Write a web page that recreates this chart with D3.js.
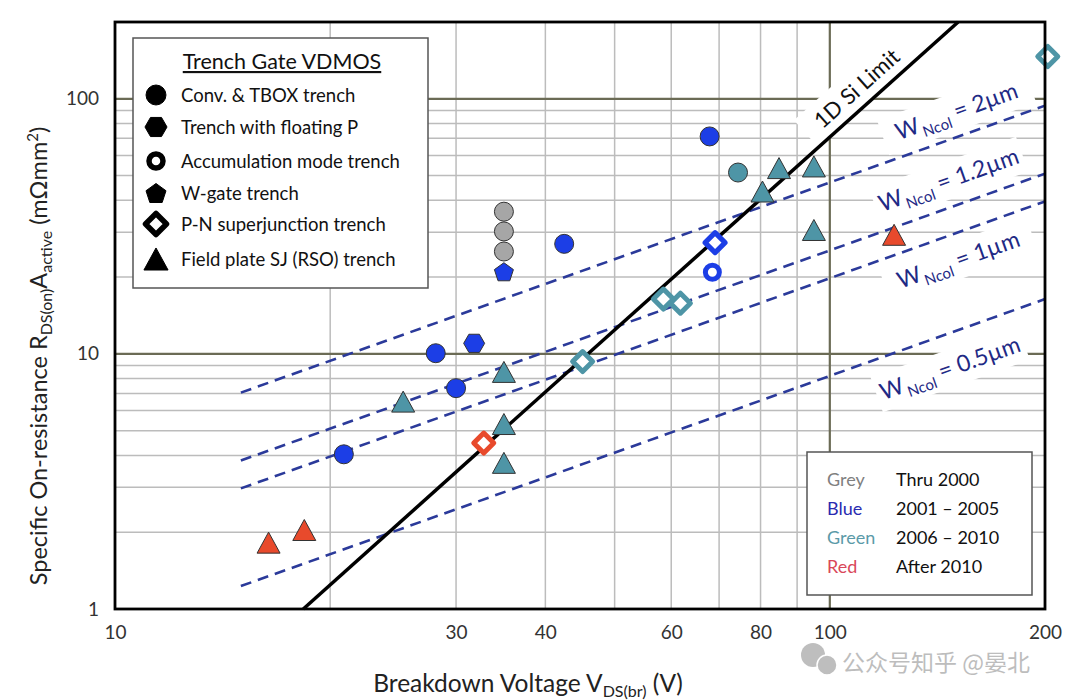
<!DOCTYPE html>
<html>
<head>
<meta charset="utf-8">
<script src="https://cdn.jsdelivr.net/npm/d3@7"></script>
<style>
body { margin: 0; background: #fff; }
svg { font-family: Lato, "Open Sans", sans-serif; }
</style>
</head>
<body>
<svg id="chart" width="1080" height="700"></svg>
<script>
// axes: breakdown voltage (V) vs specific on-resistance (mOhm mm2), log-log
const xTickLabels = [10, 30, 40, 60, 80, 100, 200];
const yTickLabels = [1, 10, 100];
const xMinorGrid = [20, 30, 40, 50, 60, 70, 80, 90];
const yMinorGrid = [2, 3, 4, 5, 6, 7, 8, 9, 20, 30, 40, 50, 60, 70, 80, 90];
const xMajorGrid = [100];
const yMajorGrid = [10, 100];

// points: [V, Ron, era]
const convTrench = [[35, 36.1, "grey"], [35, 30.2, "grey"], [35, 25.2, "grey"], [20.9, 4.04, "blue"],
  [28.1, 10.06, "blue"], [30, 7.34, "blue"], [42.5, 27.0, "blue"], [67.9, 71.2, "blue"], [74.4, 51.4, "green"]];
const floatingP = [[31.8, 11.0, "blue"]];
const accumulation = [[68.5, 20.9, "blue"]];
const wGate = [[35, 21.0, "blue"]];
const superjunction = [[32.8, 4.47, "red"], [45.1, 9.33, "green"], [58.5, 16.4, "green"], [61.8, 15.8, "green"],
  [69.1, 27.3, "blue"], [201.8, 146.5, "green"]];
const fieldPlate = [[16.4, 1.82, "red"], [18.4, 2.04, "red"], [25.3, 6.5, "green"], [35, 8.5, "green"],
  [35, 5.31, "green"], [35, 3.74, "green"], [80.5, 43.3, "green"], [84.9, 53.5, "green"], [95, 54.3, "green"],
  [95, 30.6, "green"], [123, 29.3, "red"]];

const siLimit = [[18.34, 1], [151.2, 200]];
const siLabelAt = [109, 110];
const wNcolNames = ["2µm", "1.2µm", "1µm", "0.5µm"];
const wNcolLines = [
  [[15, 7.05], [200, 94]],
  [[15, 3.82], [200, 50.9]],
  [[15, 2.97], [200, 39.6]],
  [[15, 1.23], [200, 16.4]]
];
const wNcolLabelAt = [[150.7, 88], [146.9, 47.3], [151.6, 23.0], [147.6, 8.65]];

const shapeNames = ["Conv. & TBOX trench", "Trench with floating P", "Accumulation mode trench",
  "W-gate trench", "P-N superjunction trench", "Field plate SJ (RSO) trench"];
const eraNames = ["Grey", "Blue", "Green", "Red"];
const eraYears = ["Thru 2000", "2001 – 2005", "2006 – 2010", "After 2010"];

const eraFill = { grey: "#a6a6a6", blue: "#1c3ee6", green: "#4e95a6", red: "#e84a2c" };
const eraText = ["#808080", "#2a2ab0", "#5b9aa8", "#d9475a"];
const navy = "#2b3a9a";

const svg = d3.select("#chart");

const x = d3.scaleLog().domain([10, 200]).range([115, 1045]);
const y = d3.scaleLog().domain([1, 200]).range([609, 22]);

const gridLayer = svg.append("g");
const boxLayer = svg.append("g");
const lineLayer = svg.append("g");
const pointLayer = svg.append("g");
const frameLayer = svg.append("g");

// grid
gridLayer.selectAll(".vminor").data(xMinorGrid).enter().append("line")
  .attr("x1", d => x(d)).attr("x2", d => x(d))
  .attr("y1", y(200)).attr("y2", y(1))
  .attr("stroke", "#bcbcbc").attr("stroke-width", 1.5);
gridLayer.selectAll(".hminor").data(yMinorGrid).enter().append("line")
  .attr("x1", x(10)).attr("x2", x(200))
  .attr("y1", d => y(d)).attr("y2", d => y(d))
  .attr("stroke", "#bcbcbc").attr("stroke-width", 1.5);
gridLayer.selectAll(".vmajor").data(xMajorGrid).enter().append("line")
  .attr("x1", d => x(d)).attr("x2", d => x(d))
  .attr("y1", y(200)).attr("y2", y(1))
  .attr("stroke", "#6b6b55").attr("stroke-width", 2.2);
gridLayer.selectAll(".hmajor").data(yMajorGrid).enter().append("line")
  .attr("x1", x(10)).attr("x2", x(200))
  .attr("y1", d => y(d)).attr("y2", d => y(d))
  .attr("stroke", "#6b6b55").attr("stroke-width", 2.2);

function angleOf(seg) {
  return Math.atan2(y(seg[1][1]) - y(seg[0][1]), x(seg[1][0]) - x(seg[0][0])) * 180 / Math.PI;
}

// 1D Si limit label
const siAngle = angleOf(siLimit);
const siLabel = boxLayer.append("g")
  .attr("transform", `translate(${x(siLabelAt[0])},${y(siLabelAt[1])}) rotate(${siAngle})`);
siLabel.append("rect").attr("x", -68).attr("y", -18).attr("width", 136).attr("height", 38).attr("fill", "#fff");
siLabel.append("text").attr("text-anchor", "middle").attr("y", 8)
  .style("font-size", "22px").attr("fill", "#111").text("1D Si Limit");

// W_Ncol labels
wNcolLabelAt.forEach((p, i) => {
  const g = boxLayer.append("g")
    .attr("transform", `translate(${x(p[0])},${y(p[1])}) rotate(${angleOf(wNcolLines[i])})`);
  g.append("rect").attr("x", -78).attr("y", -20).attr("width", 156).attr("height", 37).attr("fill", "#fff");
  const t = g.append("text").attr("text-anchor", "middle").attr("y", 6)
    .attr("fill", "#1f2a85").style("font-size", "23px");
  t.append("tspan").text("W");
  t.append("tspan").attr("dx", 2).attr("dy", 6).style("font-size", "15px").text("Ncol");
  t.append("tspan").attr("dy", -6).text(" = " + wNcolNames[i]);
});

// lines
const line = d3.line().x(d => x(d[0])).y(d => y(d[1]));
lineLayer.selectAll(".wline").data(wNcolLines).enter().append("path")
  .attr("d", line).attr("fill", "none")
  .attr("stroke", navy).attr("stroke-width", 2.6).attr("stroke-dasharray", "11,7");
lineLayer.append("path").datum(siLimit)
  .attr("d", line).attr("fill", "none")
  .attr("stroke", "#000").attr("stroke-width", 3.5);

// marker shapes
function shapePath(kind, k) {
  k = k || 1;
  const p = d3.path();
  if (kind === "circle") {
    p.arc(0, 0, 9.5 * k, 0, 2 * Math.PI);
  } else if (kind === "hexagon") {
    const r = 10.5 * k;
    for (let i = 0; i < 6; i++) {
      const a = i * Math.PI / 3;
      i ? p.lineTo(r * Math.cos(a), r * Math.sin(a)) : p.moveTo(r * Math.cos(a), r * Math.sin(a));
    }
    p.closePath();
  } else if (kind === "pentagon") {
    const r = 10 * k;
    for (let i = 0; i < 5; i++) {
      const a = -Math.PI / 2 + i * 2 * Math.PI / 5;
      i ? p.lineTo(r * Math.cos(a), r * Math.sin(a) + 1) : p.moveTo(r * Math.cos(a), r * Math.sin(a) + 1);
    }
    p.closePath();
  } else if (kind === "ring") {
    p.arc(0, 0, 7 * k, 0, 2 * Math.PI);
  } else if (kind === "diamond") {
    const r = 10 * k;
    p.moveTo(0, -r); p.lineTo(r, 0); p.lineTo(0, r); p.lineTo(-r, 0); p.closePath();
  } else if (kind === "triangle") {
    const w = 11.5 * k, h = 10.5 * k;
    p.moveTo(0, -h); p.lineTo(w, h); p.lineTo(-w, h); p.closePath();
  }
  return p.toString();
}
const openShapes = ["ring", "diamond"];

const series = [
  { kind: "circle", data: convTrench },
  { kind: "hexagon", data: floatingP },
  { kind: "ring", data: accumulation },
  { kind: "pentagon", data: wGate },
  { kind: "diamond", data: superjunction },
  { kind: "triangle", data: fieldPlate }
];

series.forEach(s => {
  const open = openShapes.includes(s.kind);
  pointLayer.selectAll(null).data(s.data).enter().append("path")
    .attr("transform", d => `translate(${x(d[0])},${y(d[1])})`)
    .attr("d", shapePath(s.kind))
    .attr("fill", d => open ? "#fff" : eraFill[d[2]])
    .attr("stroke", d => open ? eraFill[d[2]] : "#333")
    .attr("stroke-width", open ? 5 : 1)
    .attr("stroke-linejoin", "round");
});

// frame
frameLayer.append("rect")
  .attr("x", x(10)).attr("y", y(200))
  .attr("width", x(200) - x(10)).attr("height", y(1) - y(200))
  .attr("fill", "none").attr("stroke", "#000").attr("stroke-width", 2.8);

// axes
const xAxis = svg.append("g")
  .attr("transform", `translate(0,${y(1) + 13})`)
  .call(d3.axisBottom(x).tickValues(xTickLabels).tickFormat(d3.format("d")).tickSize(0));
xAxis.select(".domain").remove();
xAxis.selectAll("text").style("font-size", "19px").attr("fill", "#333").style("font-family", "Lato, sans-serif");

const yAxis = svg.append("g")
  .attr("transform", `translate(${x(10) - 13},0)`)
  .call(d3.axisLeft(y).tickValues(yTickLabels).tickFormat(d3.format("d")).tickSize(0));
yAxis.select(".domain").remove();
yAxis.selectAll("text").style("font-size", "19px").attr("fill", "#333").style("font-family", "Lato, sans-serif");

const xTitle = svg.append("text").attr("x", 528).attr("y", 692)
  .attr("text-anchor", "middle").style("font-size", "24.5px").attr("fill", "#222");
xTitle.append("tspan").text("Breakdown Voltage V");
xTitle.append("tspan").attr("dy", 5).style("font-size", "16px").text("DS(br)");
xTitle.append("tspan").attr("dy", -5).text(" (V)");

const yTitle = svg.append("text")
  .attr("transform", "translate(47,356) rotate(-90)")
  .attr("text-anchor", "middle").style("font-size", "23.5px").attr("fill", "#222");
yTitle.append("tspan").text("Specific On-resistance R");
yTitle.append("tspan").attr("dy", 5).style("font-size", "16px").text("DS(on)");
yTitle.append("tspan").attr("dy", -5).text("A");
yTitle.append("tspan").attr("dy", 5).style("font-size", "16px").text("active");
yTitle.append("tspan").attr("dy", -5).text(" (mΩmm");
yTitle.append("tspan").attr("dy", -9).style("font-size", "15px").text("2");
yTitle.append("tspan").attr("dy", 9).text(")");

// shape legend
const shapeLegend = svg.append("g").attr("transform", "translate(133,38)");
shapeLegend.append("rect").attr("width", 295).attr("height", 250)
  .attr("fill", "#fff").attr("stroke", "#555").attr("stroke-width", 1.5);
shapeLegend.append("text").attr("x", 149).attr("y", 31).attr("text-anchor", "middle")
  .style("font-size", "21.5px").style("text-decoration", "underline").attr("fill", "#111")
  .text("Trench Gate VDMOS");
const legendRowY = [57, 89, 123, 155, 186, 221];
series.forEach((s, i) => {
  const open = openShapes.includes(s.kind);
  shapeLegend.append("path")
    .attr("transform", `translate(23,${legendRowY[i]})`)
    .attr("d", shapePath(s.kind, s.kind === "ring" ? 1.0 : 1.05))
    .attr("fill", open ? "#fff" : "#000")
    .attr("stroke", "#000").attr("stroke-width", open ? 5.5 : 1)
    .attr("stroke-linejoin", "round");
  shapeLegend.append("text").attr("x", 48).attr("y", legendRowY[i] + 6.5)
    .style("font-size", "18.5px").attr("fill", "#111").text(shapeNames[i]);
});

// era legend
const eraLegend = svg.append("g").attr("transform", "translate(807,452)");
eraLegend.append("rect").attr("width", 225).attr("height", 143)
  .attr("fill", "#fff").attr("stroke", "#555").attr("stroke-width", 1.5);
eraNames.forEach((n, i) => {
  eraLegend.append("text").attr("x", 20).attr("y", 33.5 + i * 29.3)
    .style("font-size", "18px").attr("fill", eraText[i]).text(n);
  eraLegend.append("text").attr("x", 89).attr("y", 33.5 + i * 29.3)
    .style("font-size", "18px").attr("fill", "#111").text(eraYears[i]);
});

// watermark
const wm = svg.append("g").attr("opacity", 0.55);
wm.append("circle").attr("cx", 813).attr("cy", 655).attr("r", 12).attr("fill", "#8a8a8a");
wm.append("circle").attr("cx", 827).attr("cy", 665).attr("r", 10).attr("fill", "#8a8a8a").attr("stroke", "#fff").attr("stroke-width", 1.5);
wm.append("text").attr("x", 842).attr("y", 671)
  .style("font-family", "'Noto Sans CJK SC', sans-serif").style("font-size", "23px")
  .attr("fill", "#888").text("公众号知乎 @晏北");
</script>
</body>
</html>
